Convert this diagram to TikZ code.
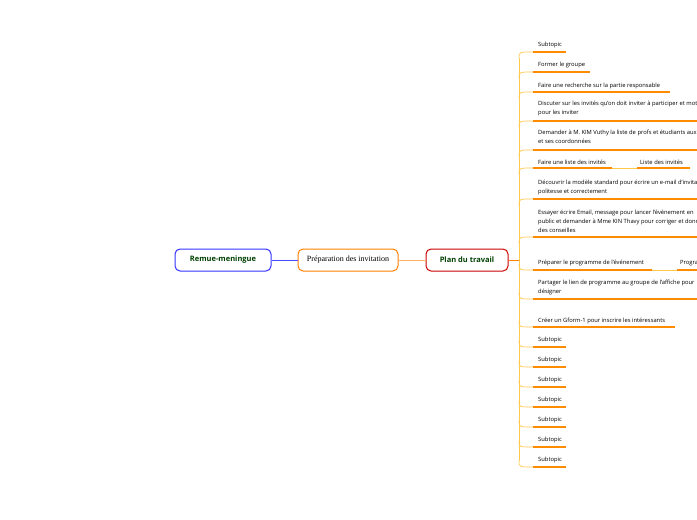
\documentclass[tikz,border=0pt]{standalone}
\usepackage{fontspec}
\setmainfont{Open Sans}
\newfontfamily\serifx{Liberation Serif}
\begin{document}
\begin{tikzpicture}[x=1pt,y=-1pt,
 main/.style={draw,rounded corners=5pt,line width=1pt,minimum height=22pt,font=\fontsize{7.5}{9}\selectfont\bfseries},
 sub/.style={anchor=west,font=\fontsize{5.8}{9}\selectfont,inner sep=0pt,align=left},
 ln/.style={draw=orange!90!yellow,line width=1.2pt},
 br/.style={draw=orange!60!yellow!70,line width=0.7pt}]
\clip (0,0) rectangle (697,520);
\fill[white] (0,0) rectangle (697,520);
\node[main,draw=blue!80,text=green!25!black,minimum width=96pt] (r) at (223,260) {Remue-meningue};
\node[main,draw=orange,font=\serifx\fontsize{8}{9}\selectfont,minimum width=100pt] (p) at (348,260) {Préparation des invitation};
\node[main,draw=red!80!black,text=green!25!black,minimum width=82pt] (w) at (467,260) {Plan du travail};
\draw[blue!70,line width=0.8pt] (r.east) -- (p.west);
\draw[orange!60,line width=0.8pt] (p.east) -- (w.west);
\draw[orange,line width=0.8pt] (w.east) -- (519,260);
\draw[br] (519,58) -- (519,461);
\foreach \ty/\uy/\xe/\t/\d in {
 45/52/566/{Subtopic}/6,
 65/72/590/{Former le groupe}/6,
 86/92/670/{Faire une recherche sur la partie responsable}/6,
 108/121/700/{Discuter sur les invités qu'on doit inviter à participer et motiver\\pour les inviter}/6,
 137/150/700/{Demander à M. KIM Vuthy la liste de profs et étudiants aux\\et ses coordonnées}/6,
 162/168/612/{Faire une liste des invités}/6,
 187/199/700/{Découvrir la modèle standard pour écrire un e-mail d'invitation de\\politesse et correctement}/6,
 221/237/700/{Essayer écrire Email, message pour lancer l'événement en\\public et demander à Mme KIN Thavy pour corriger et donner\\des conseilles}/6,
 263/270/652/{Préparer le programme de l'événement}/-6,
 287/299/700/{Partager le lien de programme au groupe de l'affiche pour\\désigner}/-6,
 321/327/675/{Créer un Gform-1 pour inscrire les intéressants}/-6,
 340/347/566/{Subtopic}/-6,
 360/367/566/{Subtopic}/-6,
 380/387/566/{Subtopic}/-6,
 400/407/566/{Subtopic}/-6,
 420/427/566/{Subtopic}/-6,
 440/447/566/{Subtopic}/-6,
 460/467/566/{Subtopic}/-6}{
 \draw[br] (519,\uy+\d) .. controls (519,\uy) .. (533,\uy);
 \draw[ln] (533,\uy) -- (\xe,\uy);
 \node[sub] at (538,\ty) {\t};
}
\node[sub] at (640,162) {Liste des invités};
\draw[ln] (637,168) -- (690,168);
\node[sub] at (680,263) {Programme};
\draw[ln] (677,270) -- (700,270);
\draw[br] (652,270) -- (677,270);
\draw[br] (612,168) -- (637,168);
\end{tikzpicture}
\end{document}
